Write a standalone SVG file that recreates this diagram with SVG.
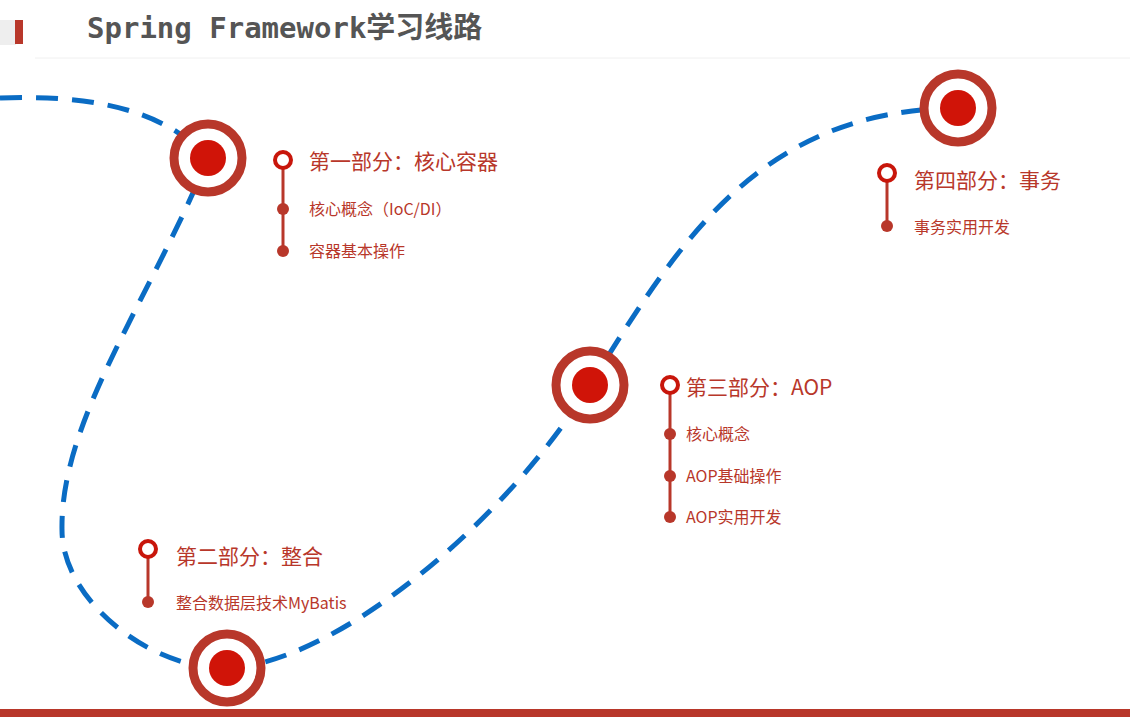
<svg xmlns="http://www.w3.org/2000/svg" width="1130" height="723" viewBox="0 0 1130 723">
<style>
.t{font-family:"Noto Sans CJK SC","Liberation Sans",sans-serif;fill:#b8372a}
.h{font-size:21px}.s{font-size:16px}
.ring{fill:#fff;stroke:#b8372a;stroke-width:9}
.core{fill:#d01408}
.ln{stroke:#b8372a;stroke-width:3}
.dot{fill:#b8372a}
.hd{fill:#fff;stroke:#c8160b;stroke-width:4}
</style>
<rect width="1130" height="723" fill="#fff"/>
<rect x="0" y="20" width="16" height="25" fill="#eeeeee"/>
<rect x="15" y="20" width="8" height="24" fill="#b8372a"/>
<text x="87" y="38" style="font-family:'DejaVu Sans Mono','Noto Sans CJK SC',monospace;font-size:29px;font-weight:bold;fill:#555">Spring Framework学习线路</text>
<line x1="35" y1="58" x2="1130" y2="58" stroke="#f0f0f0" stroke-width="1"/>
<g id="connectors">
<path d="M0,98 C80,95 160,105 208,158 C150,300 60,420 62,530 C62,600 150,670 227,668 C330,665 500,530 590,385 C680,240 760,110 958,108" fill="none" stroke="#0a6cc4" stroke-width="5" stroke-dasharray="22,14"/>
</g>
<g id="n1"><circle class="ring" cx="208" cy="158" r="34"/><circle class="core" cx="208" cy="158" r="18"/></g>
<g id="n2"><circle class="ring" cx="227" cy="668" r="34"/><circle class="core" cx="227" cy="668" r="18"/></g>
<g id="n3"><circle class="ring" cx="590" cy="385" r="34"/><circle class="core" cx="590" cy="385" r="18"/></g>
<g id="n4"><circle class="ring" cx="958" cy="108" r="34"/><circle class="core" cx="958" cy="108" r="18"/></g>
<g id="l1">
<line class="ln" x1="283" y1="168" x2="283" y2="250"/><circle class="hd" cx="283" cy="160" r="8"/>
<circle class="dot" cx="283" cy="209" r="6"/><circle class="dot" cx="283" cy="251" r="6"/>
<text class="t h" x="309" y="169">第一部分：核心容器</text>
<text class="t s" x="309" y="215">核心概念（IoC/DI）</text>
<text class="t s" x="309" y="257">容器基本操作</text>
</g>
<g id="l2">
<line class="ln" x1="148" y1="557" x2="148" y2="602"/><circle class="hd" cx="148" cy="549" r="8"/>
<circle class="dot" cx="148" cy="602" r="6"/>
<text class="t h" x="176" y="564">第二部分：整合</text>
<text class="t s" x="176" y="609">整合数据层技术MyBatis</text>
</g>
<g id="l3">
<line class="ln" x1="670" y1="393" x2="670" y2="517"/><circle class="hd" cx="670" cy="385" r="8"/>
<circle class="dot" cx="670" cy="434" r="6"/><circle class="dot" cx="670" cy="476" r="6"/><circle class="dot" cx="670" cy="517" r="6"/>
<text class="t h" x="686" y="395">第三部分：AOP</text>
<text class="t s" x="686" y="440">核心概念</text>
<text class="t s" x="686" y="482">AOP基础操作</text>
<text class="t s" x="686" y="523">AOP实用开发</text>
</g>
<g id="l4">
<line class="ln" x1="887" y1="181" x2="887" y2="226"/><circle class="hd" cx="887" cy="173" r="8"/>
<circle class="dot" cx="887" cy="226" r="6"/>
<text class="t h" x="914" y="188">第四部分：事务</text>
<text class="t s" x="914" y="233">事务实用开发</text>
</g>
<rect x="0" y="709" width="1130" height="8" fill="#b8372a"/>
</svg>
